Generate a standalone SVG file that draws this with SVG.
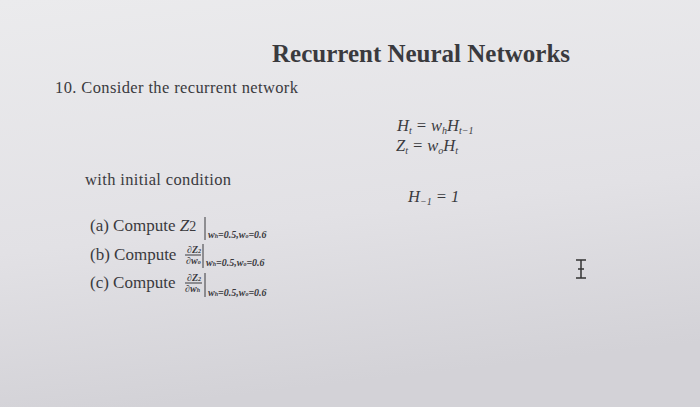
<svg xmlns="http://www.w3.org/2000/svg" width="700" height="407" viewBox="0 0 700 407">
<defs>
<linearGradient id="bg" x1="0" y1="0" x2="0.2" y2="1">
<stop offset="0" stop-color="#ebebed"/><stop offset="0.6" stop-color="#e2e1e5"/><stop offset="1" stop-color="#d3d2d7"/>
</linearGradient>
<style>
.t{font-family:"Liberation Serif",serif;fill:#3a3a3e;font-size:16.5px}
.i{font-style:italic}
.s{font-size:10px}
.xs{font-size:10px;font-weight:bold}
.bar{stroke:#3a3a3e;stroke-width:1}
</style>
</defs>
<rect width="700" height="407" fill="url(#bg)"/>
<text class="t" x="272" y="62" style="font-size:25px;font-weight:bold">Recurrent Neural Networks</text>
<text class="t" x="55" y="93" textLength="243">10. Consider the recurrent network</text>
<text class="t i" x="397" y="131">H<tspan class="s" dy="3">t</tspan><tspan dy="-3"> = w</tspan><tspan class="s" dy="3">h</tspan><tspan dy="-3">H</tspan><tspan class="s" dy="3">t−1</tspan></text>
<text class="t i" x="396" y="151">Z<tspan class="s" dy="3">t</tspan><tspan dy="-3"> = w</tspan><tspan class="s" dy="3">o</tspan><tspan dy="-3">H</tspan><tspan class="s" dy="3">t</tspan></text>
<text class="t" x="85" y="185" textLength="146">with initial condition</text>
<text class="t i" x="408" y="202">H<tspan class="s" dy="3">−1</tspan><tspan dy="-3"> = 1</tspan></text>
<g id="a">
<text class="t" x="90" y="231" style="font-size:17px">(a) Compute <tspan class="i">Z</tspan><tspan class="s" style="font-size:14px">2</tspan></text>
<line class="bar" x1="205" y1="217" x2="205" y2="240"/>
<text class="t i xs" x="208" y="238">w<tspan style="font-size:6px">h</tspan>=0.5,w<tspan style="font-size:6px">o</tspan>=0.6</text>
</g>
<g id="b">
<text class="t" x="90" y="260" style="font-size:17px">(b) Compute</text>
<text class="t i xs" x="187" y="253">∂Z<tspan style="font-size:6px">2</tspan></text>
<line class="bar" x1="185" y1="255" x2="201" y2="255"/>
<text class="t i xs" x="186" y="264">∂w<tspan style="font-size:6px">o</tspan></text>
<line class="bar" x1="203" y1="244" x2="203" y2="268"/>
<text class="t i xs" x="206" y="266">w<tspan style="font-size:6px">h</tspan>=0.5,w<tspan style="font-size:6px">o</tspan>=0.6</text>
</g>
<g id="c">
<text class="t" x="90" y="288" style="font-size:17px">(c) Compute</text>
<text class="t i xs" x="187" y="281">∂Z<tspan style="font-size:6px">2</tspan></text>
<line class="bar" x1="185" y1="283" x2="202" y2="283"/>
<text class="t i xs" x="185" y="292">∂w<tspan style="font-size:6px">h</tspan></text>
<line class="bar" x1="205" y1="273" x2="205" y2="297"/>
<text class="t i xs" x="208" y="296">w<tspan style="font-size:6px">h</tspan>=0.5,w<tspan style="font-size:6px">o</tspan>=0.6</text>
</g>
<g id="cursor" stroke="#333" stroke-width="1.5" fill="none">
<path d="M576 260h10M576 278h10M581 260v18M578 269h6"/>
</g>
</svg>
